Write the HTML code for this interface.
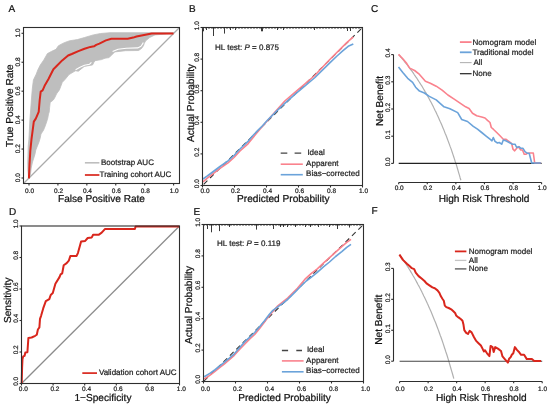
<!DOCTYPE html>
<html><head><meta charset="utf-8"><style>
html,body{margin:0;padding:0;background:#fff;}
svg{display:block;will-change:transform;}
text{font-family:"Liberation Sans",sans-serif;stroke:currentColor;stroke-width:0.22px;text-rendering:geometricPrecision;}
</style></head><body>
<svg width="550" height="408" viewBox="0 0 550 408" font-family="Liberation Sans, sans-serif">
<rect width="550" height="408" fill="#fff"/>
<text x="8.6" y="11.8" font-size="10" text-anchor="start" fill="#111" color="#111">A</text>
<polygon points="28.6,178.4 27.9,170.0 27.8,162.0 28.2,146.0 28.9,139.2 29.9,119.6 30.5,112.0 31.1,104.0 31.7,96.0 32.4,88.0 33.4,80.0 36.3,74.0 37.8,70.0 40.3,65.0 43.8,59.9 47.4,53.6 51.7,51.3 56.0,49.3 58.4,45.8 62.7,43.4 67.4,41.5 70.0,40.7 77.3,39.6 84.5,37.5 93.3,34.9 100.5,33.5 110.0,32.7 150.0,32.7 173.5,32.7 173.5,33.6 166.7,34.0 160.0,34.5 155.0,34.9 149.5,37.6 145.5,41.0 144.3,43.3 143.5,45.7 141.5,48.5 138.6,50.5 125.5,50.7 114.8,51.9 109.1,57.6 105.0,58.2 101.5,59.6 95.0,60.7 93.8,62.5 92.6,64.9 84.3,66.4 78.4,71.2 75.4,70.8 69.0,74.6 65.0,79.5 62.3,82.3 60.9,86.0 59.4,89.9 56.6,93.8 54.7,97.8 53.3,100.0 50.2,102.4 49.6,107.8 49.2,112.0 48.5,114.0 47.8,118.0 46.6,122.0 45.2,126.0 43.6,130.0 41.0,134.0 40.2,138.0 39.0,142.0 37.4,146.0 35.8,150.0 35.0,154.0 33.8,158.0 32.5,162.0 31.2,168.0 30.5,174.0 29.5,178.4" fill="#bebebe" stroke="#bebebe" stroke-width="0.8"/>
<polyline points="112.6,51.6 118.1,49.2 126.3,48.3 137.7,47.9 141.0,46.2 142.6,43.9 143.3,42.5" fill="none" stroke="#fff" stroke-width="1.1" stroke-linejoin="round"/>
<polyline points="75.6,69.7 80.0,67.3 84.5,65.3 89.4,64.3 91.4,62.3" fill="none" stroke="#fff" stroke-width="1.1" stroke-linejoin="round"/>
<line x1="23.5" y1="183.5" x2="179.5" y2="27.5" stroke="#ababab" stroke-width="1.25"/>
<polyline points="28.9,178.4 29.5,164.7 30.3,151.0 31.5,139.2 32.8,129.4 33.8,121.6 35.8,118.6 38.7,111.8 39.7,100.0 40.7,91.7 42.6,90.4 44.6,85.8 48.5,79.0 53.4,69.2 56.4,66.2 62.2,60.4 68.1,55.5 71.8,54.0 78.4,51.1 84.5,48.8 90.4,46.9 94.0,46.3 96.2,44.9 99.4,43.6 105.9,40.4 111.4,38.7 127.7,38.7 133.2,37.6 136.5,36.5 144.1,34.9 151.7,33.4 173.5,33.4" fill="none" stroke="#d9261c" stroke-width="2.0" stroke-linejoin="round"/>
<rect x="23.5" y="27.5" width="156" height="156" fill="none" stroke="#2e2e2e" stroke-width="1.1"/>
<line x1="29.0" y1="183.5" x2="29.0" y2="185.5" stroke="#2e2e2e" stroke-width="1.1"/>
<text x="29.6" y="192.7" font-size="6.5" text-anchor="middle" fill="#222" color="#222">0.0</text>
<line x1="57.92" y1="183.5" x2="57.92" y2="185.5" stroke="#2e2e2e" stroke-width="1.1"/>
<text x="58.52" y="192.7" font-size="6.5" text-anchor="middle" fill="#222" color="#222">0.2</text>
<line x1="86.84" y1="183.5" x2="86.84" y2="185.5" stroke="#2e2e2e" stroke-width="1.1"/>
<text x="87.44" y="192.7" font-size="6.5" text-anchor="middle" fill="#222" color="#222">0.4</text>
<line x1="115.75999999999999" y1="183.5" x2="115.75999999999999" y2="185.5" stroke="#2e2e2e" stroke-width="1.1"/>
<text x="116.35999999999999" y="192.7" font-size="6.5" text-anchor="middle" fill="#222" color="#222">0.6</text>
<line x1="144.68" y1="183.5" x2="144.68" y2="185.5" stroke="#2e2e2e" stroke-width="1.1"/>
<text x="145.28" y="192.7" font-size="6.5" text-anchor="middle" fill="#222" color="#222">0.8</text>
<line x1="173.6" y1="183.5" x2="173.6" y2="185.5" stroke="#2e2e2e" stroke-width="1.1"/>
<text x="174.2" y="192.7" font-size="6.5" text-anchor="middle" fill="#222" color="#222">1.0</text>
<line x1="21.5" y1="178.0" x2="23.5" y2="178.0" stroke="#2e2e2e" stroke-width="1.1"/>
<text x="19.9" y="177.7" font-size="6.5" text-anchor="middle" fill="#222" color="#222" transform="rotate(-90 19.9 177.7)">0.0</text>
<line x1="21.5" y1="149.06" x2="23.5" y2="149.06" stroke="#2e2e2e" stroke-width="1.1"/>
<text x="19.9" y="148.76" font-size="6.5" text-anchor="middle" fill="#222" color="#222" transform="rotate(-90 19.9 148.76)">0.2</text>
<line x1="21.5" y1="120.12" x2="23.5" y2="120.12" stroke="#2e2e2e" stroke-width="1.1"/>
<text x="19.9" y="119.82000000000001" font-size="6.5" text-anchor="middle" fill="#222" color="#222" transform="rotate(-90 19.9 119.82000000000001)">0.4</text>
<line x1="21.5" y1="91.18" x2="23.5" y2="91.18" stroke="#2e2e2e" stroke-width="1.1"/>
<text x="19.9" y="90.88000000000001" font-size="6.5" text-anchor="middle" fill="#222" color="#222" transform="rotate(-90 19.9 90.88000000000001)">0.6</text>
<line x1="21.5" y1="62.24000000000001" x2="23.5" y2="62.24000000000001" stroke="#2e2e2e" stroke-width="1.1"/>
<text x="19.9" y="61.94000000000001" font-size="6.5" text-anchor="middle" fill="#222" color="#222" transform="rotate(-90 19.9 61.94000000000001)">0.8</text>
<line x1="21.5" y1="33.30000000000001" x2="23.5" y2="33.30000000000001" stroke="#2e2e2e" stroke-width="1.1"/>
<text x="19.9" y="33.000000000000014" font-size="6.5" text-anchor="middle" fill="#222" color="#222" transform="rotate(-90 19.9 33.000000000000014)">1.0</text>
<text x="58.0" y="202.3" font-size="10.1" text-anchor="start" fill="#111" color="#111">False Positive Rate</text>
<text x="12.8" y="105.6" font-size="10.1" text-anchor="middle" fill="#111" color="#111" transform="rotate(-90 12.8 105.6)">True Positive Rate</text>
<line x1="84.9" y1="162.8" x2="99.4" y2="162.8" stroke="#bebebe" stroke-width="1.6"/>
<text x="101.0" y="164.9" font-size="8.0" text-anchor="start" fill="#222" color="#222">Bootstrap AUC</text>
<line x1="84.9" y1="175.0" x2="99.4" y2="175.0" stroke="#d9261c" stroke-width="1.7"/>
<text x="99.6" y="177.1" font-size="8.0" text-anchor="start" fill="#222" color="#222">Training cohort AUC</text>
<text x="188.9" y="11.8" font-size="10" text-anchor="start" fill="#111" color="#111">B</text>
<line x1="362.5" y1="27.5" x2="202.5" y2="185.5" stroke="#333" stroke-width="1.1" stroke-dasharray="5.2,3.8" stroke-dashoffset="7"/>
<polyline points="203.0,181.8 207.0,178.4 212.0,174.5 220.0,168.4 228.0,162.9 234.0,157.5 240.0,151.0 248.0,143.8 252.7,137.9 257.6,132.0 262.5,126.2 267.4,120.8 275.0,112.0 284.8,101.0 294.6,92.6 304.4,84.3 314.2,76.0 329.3,60.0 346.5,42.9 353.3,36.9" fill="none" stroke="#fa828d" stroke-width="1.6" stroke-linejoin="round"/>
<polyline points="203.0,179.0 207.0,176.2 212.0,172.5 220.0,166.5 228.0,160.8 234.0,155.5 240.0,149.0 248.0,141.4 252.7,135.8 257.6,130.6 262.5,125.7 267.4,120.3 272.3,115.4 275.0,112.7 284.8,103.4 294.6,94.6 304.4,86.3 315.0,77.5 329.3,63.4 337.0,56.0 343.0,50.6 348.2,46.3 353.3,44.1" fill="none" stroke="#6ba3da" stroke-width="1.6" stroke-linejoin="round"/>
<rect x="202.5" y="27.5" width="160.0" height="158.0" fill="none" stroke="#2e2e2e" stroke-width="1.1"/>
<line x1="203.5" y1="27.5" x2="203.5" y2="31.3" stroke="#222" stroke-width="0.9"/>
<line x1="206.5" y1="27.5" x2="206.5" y2="30.0" stroke="#222" stroke-width="0.9"/>
<line x1="213.5" y1="27.5" x2="213.5" y2="36.0" stroke="#222" stroke-width="0.9"/>
<line x1="224.5" y1="27.5" x2="224.5" y2="33.6" stroke="#222" stroke-width="0.9"/>
<line x1="230.5" y1="27.5" x2="230.5" y2="30.0" stroke="#222" stroke-width="0.9"/>
<line x1="235.5" y1="27.5" x2="235.5" y2="30.0" stroke="#222" stroke-width="0.9"/>
<line x1="261.5" y1="27.5" x2="261.5" y2="31.3" stroke="#222" stroke-width="0.9"/>
<line x1="262.5" y1="27.5" x2="262.5" y2="31.3" stroke="#222" stroke-width="0.9"/>
<line x1="277.5" y1="27.5" x2="277.5" y2="30.0" stroke="#222" stroke-width="0.9"/>
<line x1="283.5" y1="27.5" x2="283.5" y2="30.0" stroke="#222" stroke-width="0.9"/>
<line x1="314.5" y1="27.5" x2="314.5" y2="30.0" stroke="#222" stroke-width="0.9"/>
<line x1="347.5" y1="27.5" x2="347.5" y2="31.0" stroke="#222" stroke-width="0.9"/>
<line x1="350.5" y1="27.5" x2="350.5" y2="31.0" stroke="#222" stroke-width="0.9"/>
<line x1="202.5" y1="28.5" x2="362.5" y2="28.5" stroke="#555" stroke-width="1" stroke-dasharray="1,2"/>
<line x1="202.5" y1="185.5" x2="202.5" y2="187.5" stroke="#2e2e2e" stroke-width="1.1"/>
<text x="205.0" y="192.9" font-size="6.5" text-anchor="middle" fill="#222" color="#222">0.0</text>
<line x1="234.5" y1="185.5" x2="234.5" y2="187.5" stroke="#2e2e2e" stroke-width="1.1"/>
<text x="235.5" y="192.9" font-size="6.5" text-anchor="middle" fill="#222" color="#222">0.2</text>
<line x1="266.5" y1="185.5" x2="266.5" y2="187.5" stroke="#2e2e2e" stroke-width="1.1"/>
<text x="267.5" y="192.9" font-size="6.5" text-anchor="middle" fill="#222" color="#222">0.4</text>
<line x1="298.5" y1="185.5" x2="298.5" y2="187.5" stroke="#2e2e2e" stroke-width="1.1"/>
<text x="299.5" y="192.9" font-size="6.5" text-anchor="middle" fill="#222" color="#222">0.6</text>
<line x1="330.5" y1="185.5" x2="330.5" y2="187.5" stroke="#2e2e2e" stroke-width="1.1"/>
<text x="331.5" y="192.9" font-size="6.5" text-anchor="middle" fill="#222" color="#222">0.8</text>
<line x1="362.5" y1="185.5" x2="362.5" y2="187.5" stroke="#2e2e2e" stroke-width="1.1"/>
<text x="363.5" y="192.9" font-size="6.5" text-anchor="middle" fill="#222" color="#222">1.0</text>
<line x1="200.5" y1="185.5" x2="202.5" y2="185.5" stroke="#2e2e2e" stroke-width="1.1"/>
<text x="199.2" y="183.7" font-size="6.5" text-anchor="middle" fill="#222" color="#222" transform="rotate(-90 199.2 183.7)">0.0</text>
<line x1="200.5" y1="153.9" x2="202.5" y2="153.9" stroke="#2e2e2e" stroke-width="1.1"/>
<text x="199.2" y="152.1" font-size="6.5" text-anchor="middle" fill="#222" color="#222" transform="rotate(-90 199.2 152.1)">0.2</text>
<line x1="200.5" y1="122.3" x2="202.5" y2="122.3" stroke="#2e2e2e" stroke-width="1.1"/>
<text x="199.2" y="120.5" font-size="6.5" text-anchor="middle" fill="#222" color="#222" transform="rotate(-90 199.2 120.5)">0.4</text>
<line x1="200.5" y1="90.7" x2="202.5" y2="90.7" stroke="#2e2e2e" stroke-width="1.1"/>
<text x="199.2" y="88.9" font-size="6.5" text-anchor="middle" fill="#222" color="#222" transform="rotate(-90 199.2 88.9)">0.6</text>
<line x1="200.5" y1="59.099999999999994" x2="202.5" y2="59.099999999999994" stroke="#2e2e2e" stroke-width="1.1"/>
<text x="199.2" y="57.3" font-size="6.5" text-anchor="middle" fill="#222" color="#222" transform="rotate(-90 199.2 57.3)">0.8</text>
<line x1="200.5" y1="27.5" x2="202.5" y2="27.5" stroke="#2e2e2e" stroke-width="1.1"/>
<text x="199.2" y="25.7" font-size="6.5" text-anchor="middle" fill="#222" color="#222" transform="rotate(-90 199.2 25.7)">1.0</text>
<text x="237.1" y="202.4" font-size="10.1" text-anchor="start" fill="#111" color="#111">Predicted Probability</text>
<text x="193.5" y="103.0" font-size="10.1" text-anchor="middle" fill="#111" color="#111" transform="rotate(-90 193.5 103.0)">Actual Probability</text>
<text x="215" y="49.7" font-size="8.0" text-anchor="start" fill="#222" color="#222">HL test: <tspan font-style="italic">P</tspan> = 0.875</text>
<line x1="280.7" y1="153.1" x2="301.2" y2="153.1" stroke="#444" stroke-width="1.4" stroke-dasharray="6.6,7.3"/>
<text x="307.4" y="155.2" font-size="8.0" text-anchor="start" fill="#222" color="#222">Ideal</text>
<line x1="280.7" y1="164.2" x2="302.8" y2="164.2" stroke="#fa828d" stroke-width="1.6"/>
<text x="306.1" y="165.5" font-size="8.0" text-anchor="start" fill="#222" color="#222">Apparent</text>
<line x1="280.7" y1="174.7" x2="302.8" y2="174.7" stroke="#6ba3da" stroke-width="1.6"/>
<text x="306.1" y="176.3" font-size="8.0" text-anchor="start" fill="#222" color="#222">Bias−corrected</text>
<text x="371.0" y="11.9" font-size="10" text-anchor="start" fill="#111" color="#111">C</text>
<polyline points="398.7,54.6 399.4,55.4 400.1,56.2 400.8,57.1 401.6,57.9 402.3,58.8 403.0,59.6 403.7,60.5 404.4,61.4 405.1,62.3 405.8,63.2 406.6,64.1 407.3,65.0 408.0,65.9 408.7,66.9 409.4,67.8 410.1,68.8 410.8,69.8 411.6,70.7 412.3,71.7 413.0,72.7 413.7,73.7 414.4,74.8 415.1,75.8 415.8,76.9 416.6,77.9 417.3,79.0 418.0,80.1 418.7,81.2 419.4,82.3 420.1,83.4 420.8,84.5 421.6,85.7 422.3,86.8 423.0,88.0 423.7,89.2 424.4,90.4 425.1,91.6 425.9,92.9 426.6,94.1 427.3,95.4 428.0,96.7 428.7,98.0 429.4,99.3 430.1,100.6 430.9,102.0 431.6,103.3 432.3,104.7 433.0,106.1 433.7,107.6 434.4,109.0 435.1,110.5 435.9,111.9 436.6,113.4 437.3,115.0 438.0,116.5 438.7,118.1 439.4,119.7 440.1,121.3 440.9,122.9 441.6,124.5 442.3,126.2 443.0,127.9 443.7,129.6 444.4,131.4 445.1,133.2 445.9,135.0 446.6,136.8 447.3,138.7 448.0,140.6 448.7,142.5 449.4,144.4 450.1,146.4 450.9,148.4 451.6,150.4 452.3,152.5 453.0,154.6 453.7,156.8 454.4,158.9 455.1,161.2 455.9,163.4 456.6,165.7 457.3,168.0 458.0,170.4 458.7,172.8 459.4,175.2 460.1,177.7 460.9,180.2" fill="none" stroke="#b0b0b0" stroke-width="1.2" stroke-linejoin="round"/>
<line x1="398.7" y1="163.4" x2="541.6" y2="163.4" stroke="#222" stroke-width="1.1"/>
<polyline points="398.5,54.4 402.8,58.7 406.8,63.6 409.7,68.1 414.6,70.5 419.5,74.4 425.4,81.3 430.3,83.2 436.2,86.2 442.1,90.1 447.9,95.0 453.8,98.9 459.7,102.8 465.6,106.8 469.1,108.5 472.5,113.3 476.7,115.8 481.7,117.0 485.0,118.0 487.5,120.3 490.0,122.5 491.3,127.5 493.3,129.2 496.7,132.5 500.0,135.8 503.3,139.2 505.8,139.2 509.2,141.7 511.7,143.7 513.0,149.2 514.7,150.8 516.7,148.3 518.3,146.7 520.8,150.0 522.5,150.0 524.2,154.2 525.8,154.2 527.5,153.3 530.0,153.0 533.3,153.0 534.7,163.0 540.8,163.0" fill="none" stroke="#fa828d" stroke-width="1.6" stroke-linejoin="round"/>
<polyline points="398.5,67.0 402.8,72.5 407.7,78.3 412.6,82.3 415.6,87.2 419.5,91.1 424.4,93.0 429.3,96.4 436.2,99.9 444.0,106.8 449.9,108.7 457.7,112.6 461.7,119.5 467.5,121.5 473.3,126.3 477.5,129.2 481.7,132.5 485.8,135.8 490.0,139.2 492.0,140.8 493.3,137.5 495.0,141.3 497.5,143.0 499.2,142.5 501.7,144.2 503.3,140.0 505.8,140.8 509.2,142.5 512.5,144.2 515.0,144.2 516.7,147.5 519.2,146.7 520.8,148.3 523.0,148.3 525.0,151.7 527.5,153.3 529.2,153.3 531.7,163.0 540.8,163.0" fill="none" stroke="#6ba3da" stroke-width="1.6" stroke-linejoin="round"/>
<line x1="393.5" y1="54.6" x2="393.5" y2="163.4" stroke="#2e2e2e" stroke-width="1.1"/>
<line x1="391.2" y1="163.4" x2="393.5" y2="163.4" stroke="#2e2e2e" stroke-width="1.1"/>
<text x="389.8" y="161.8" font-size="6.5" text-anchor="middle" fill="#222" color="#222" transform="rotate(-90 389.8 161.8)">0.0</text>
<line x1="391.2" y1="136.2" x2="393.5" y2="136.2" stroke="#2e2e2e" stroke-width="1.1"/>
<text x="389.8" y="134.6" font-size="6.5" text-anchor="middle" fill="#222" color="#222" transform="rotate(-90 389.8 134.6)">0.1</text>
<line x1="391.2" y1="109.0" x2="393.5" y2="109.0" stroke="#2e2e2e" stroke-width="1.1"/>
<text x="389.8" y="107.4" font-size="6.5" text-anchor="middle" fill="#222" color="#222" transform="rotate(-90 389.8 107.4)">0.2</text>
<line x1="391.2" y1="81.8" x2="393.5" y2="81.8" stroke="#2e2e2e" stroke-width="1.1"/>
<text x="389.8" y="80.2" font-size="6.5" text-anchor="middle" fill="#222" color="#222" transform="rotate(-90 389.8 80.2)">0.3</text>
<line x1="391.2" y1="54.59999999999998" x2="393.5" y2="54.59999999999998" stroke="#2e2e2e" stroke-width="1.1"/>
<text x="389.8" y="52.99999999999998" font-size="6.5" text-anchor="middle" fill="#222" color="#222" transform="rotate(-90 389.8 52.99999999999998)">0.4</text>
<line x1="398.7" y1="182.5" x2="541.6" y2="182.5" stroke="#2e2e2e" stroke-width="1.1"/>
<line x1="398.7" y1="182.5" x2="398.7" y2="184.3" stroke="#2e2e2e" stroke-width="1.1"/>
<text x="399.2" y="189.9" font-size="6.5" text-anchor="middle" fill="#222" color="#222">0.0</text>
<line x1="427.28" y1="182.5" x2="427.28" y2="184.3" stroke="#2e2e2e" stroke-width="1.1"/>
<text x="427.78" y="189.9" font-size="6.5" text-anchor="middle" fill="#222" color="#222">0.2</text>
<line x1="455.86" y1="182.5" x2="455.86" y2="184.3" stroke="#2e2e2e" stroke-width="1.1"/>
<text x="456.36" y="189.9" font-size="6.5" text-anchor="middle" fill="#222" color="#222">0.4</text>
<line x1="484.44000000000005" y1="182.5" x2="484.44000000000005" y2="184.3" stroke="#2e2e2e" stroke-width="1.1"/>
<text x="484.94000000000005" y="189.9" font-size="6.5" text-anchor="middle" fill="#222" color="#222">0.6</text>
<line x1="513.02" y1="182.5" x2="513.02" y2="184.3" stroke="#2e2e2e" stroke-width="1.1"/>
<text x="513.52" y="189.9" font-size="6.5" text-anchor="middle" fill="#222" color="#222">0.8</text>
<line x1="541.6" y1="182.5" x2="541.6" y2="184.3" stroke="#2e2e2e" stroke-width="1.1"/>
<text x="542.1" y="189.9" font-size="6.5" text-anchor="middle" fill="#222" color="#222">1.0</text>
<text x="438.7" y="202.3" font-size="10.1" text-anchor="start" fill="#111" color="#111">High Risk Threshold</text>
<text x="382.8" y="101.0" font-size="10.1" text-anchor="middle" fill="#111" color="#111" transform="rotate(-90 382.8 101.0)">Net Benefit</text>
<line x1="459.9" y1="42.1" x2="471.6" y2="42.1" stroke="#fa828d" stroke-width="1.8"/>
<text x="472.6" y="45.1" font-size="8.0" text-anchor="start" fill="#222" color="#222">Nomogram model</text>
<line x1="459.9" y1="52.3" x2="471.6" y2="52.3" stroke="#6ba3da" stroke-width="1.8"/>
<text x="472.4" y="55.0" font-size="8.0" text-anchor="start" fill="#222" color="#222">Traditional model</text>
<line x1="459.9" y1="62.6" x2="471.6" y2="62.6" stroke="#b4b4b4" stroke-width="1.1"/>
<text x="473.4" y="64.9" font-size="8.0" text-anchor="start" fill="#222" color="#222">All</text>
<line x1="459.9" y1="73.7" x2="471.6" y2="73.7" stroke="#222" stroke-width="1.2"/>
<text x="472.6" y="76.2" font-size="8.0" text-anchor="start" fill="#222" color="#222">None</text>
<text x="8.9" y="214.5" font-size="10" text-anchor="start" fill="#111" color="#111">D</text>
<line x1="21.5" y1="383.5" x2="179.5" y2="226.0" stroke="#8c8c8c" stroke-width="1.3"/>
<polyline points="21.7,383.0 22.1,367.4 22.5,358.9 23.2,356.4 24.6,355.8 25.3,352.6 27.4,352.2 28.4,337.9 31.6,337.5 35.2,335.8 36.8,334.7 37.9,329.5 39.4,327.4 40.0,318.9 41.1,315.8 43.2,308.4 44.1,305.9 45.8,301.2 49.3,299.1 50.7,295.0 52.8,293.0 55.4,283.7 59.5,277.1 60.6,274.4 62.2,273.4 63.7,265.2 66.7,263.1 68.8,260.7 70.4,255.9 76.6,255.9 78.0,252.8 81.1,241.5 85.2,240.9 87.7,238.0 91.8,237.4 93.1,234.8 98.6,234.8 101.7,232.7 105.1,228.9 134.9,228.9 135.6,226.4 179.2,226.4" fill="none" stroke="#d9261c" stroke-width="2.0" stroke-linejoin="round"/>
<rect x="21.5" y="226.0" width="158.0" height="157.5" fill="none" stroke="#2e2e2e" stroke-width="1.1"/>
<line x1="21.5" y1="383.5" x2="21.5" y2="385.5" stroke="#2e2e2e" stroke-width="1.1"/>
<text x="23.3" y="391.4" font-size="6.5" text-anchor="middle" fill="#222" color="#222">0.0</text>
<line x1="53.1" y1="383.5" x2="53.1" y2="385.5" stroke="#2e2e2e" stroke-width="1.1"/>
<text x="54.9" y="391.4" font-size="6.5" text-anchor="middle" fill="#222" color="#222">0.2</text>
<line x1="84.7" y1="383.5" x2="84.7" y2="385.5" stroke="#2e2e2e" stroke-width="1.1"/>
<text x="86.5" y="391.4" font-size="6.5" text-anchor="middle" fill="#222" color="#222">0.4</text>
<line x1="116.3" y1="383.5" x2="116.3" y2="385.5" stroke="#2e2e2e" stroke-width="1.1"/>
<text x="118.1" y="391.4" font-size="6.5" text-anchor="middle" fill="#222" color="#222">0.6</text>
<line x1="147.9" y1="383.5" x2="147.9" y2="385.5" stroke="#2e2e2e" stroke-width="1.1"/>
<text x="149.70000000000002" y="391.4" font-size="6.5" text-anchor="middle" fill="#222" color="#222">0.8</text>
<line x1="179.5" y1="383.5" x2="179.5" y2="385.5" stroke="#2e2e2e" stroke-width="1.1"/>
<text x="181.3" y="391.4" font-size="6.5" text-anchor="middle" fill="#222" color="#222">1.0</text>
<line x1="19.5" y1="383.5" x2="21.5" y2="383.5" stroke="#2e2e2e" stroke-width="1.1"/>
<text x="18.3" y="381.3" font-size="6.5" text-anchor="middle" fill="#222" color="#222" transform="rotate(-90 18.3 381.3)">0.0</text>
<line x1="19.5" y1="352.0" x2="21.5" y2="352.0" stroke="#2e2e2e" stroke-width="1.1"/>
<text x="18.3" y="349.8" font-size="6.5" text-anchor="middle" fill="#222" color="#222" transform="rotate(-90 18.3 349.8)">0.2</text>
<line x1="19.5" y1="320.5" x2="21.5" y2="320.5" stroke="#2e2e2e" stroke-width="1.1"/>
<text x="18.3" y="318.3" font-size="6.5" text-anchor="middle" fill="#222" color="#222" transform="rotate(-90 18.3 318.3)">0.4</text>
<line x1="19.5" y1="289.0" x2="21.5" y2="289.0" stroke="#2e2e2e" stroke-width="1.1"/>
<text x="18.3" y="286.8" font-size="6.5" text-anchor="middle" fill="#222" color="#222" transform="rotate(-90 18.3 286.8)">0.6</text>
<line x1="19.5" y1="257.5" x2="21.5" y2="257.5" stroke="#2e2e2e" stroke-width="1.1"/>
<text x="18.3" y="255.3" font-size="6.5" text-anchor="middle" fill="#222" color="#222" transform="rotate(-90 18.3 255.3)">0.8</text>
<line x1="19.5" y1="226.0" x2="21.5" y2="226.0" stroke="#2e2e2e" stroke-width="1.1"/>
<text x="18.3" y="223.8" font-size="6.5" text-anchor="middle" fill="#222" color="#222" transform="rotate(-90 18.3 223.8)">1.0</text>
<text x="74.5" y="401.2" font-size="10.1" text-anchor="start" fill="#111" color="#111">1−Specificity</text>
<text x="11.4" y="300.3" font-size="10.1" text-anchor="middle" fill="#111" color="#111" transform="rotate(-90 11.4 300.3)">Sensitivity</text>
<line x1="82.3" y1="373.1" x2="97.0" y2="373.1" stroke="#d9261c" stroke-width="1.7"/>
<text x="98.9" y="375.3" font-size="8.0" text-anchor="start" fill="#222" color="#222">Validation cohort AUC</text>
<text x="193.4" y="214.5" font-size="10" text-anchor="start" fill="#111" color="#111">E</text>
<line x1="363.5" y1="224.5" x2="203.5" y2="381.5" stroke="#333" stroke-width="1.1" stroke-dasharray="5.2,3.8" stroke-dashoffset="7"/>
<polyline points="204.2,379.0 209.8,375.4 214.7,371.7 219.6,367.7 224.5,363.8 229.4,359.7 234.3,355.3 240.0,349.0 249.8,338.9 254.7,334.5 259.6,328.5 264.5,322.0 269.4,315.5 277.8,305.9 287.6,298.0 297.4,288.2 305.0,279.2 311.1,273.7 317.3,268.8 323.4,263.2 329.5,257.7 335.6,252.2 341.8,246.7 346.7,242.4 351.0,239.4" fill="none" stroke="#fa828d" stroke-width="1.6" stroke-linejoin="round"/>
<polyline points="204.2,376.8 209.8,373.4 214.7,370.0 219.6,366.1 224.5,362.2 229.4,358.2 234.3,353.8 240.0,347.2 244.9,341.6 249.8,337.1 254.7,332.5 259.6,326.7 264.5,320.8 269.2,314.6 272.9,310.3 277.8,306.9 282.7,303.4 287.6,299.5 292.5,294.6 297.4,289.7 302.3,284.8 306.2,281.0 311.1,277.3 317.3,272.4 323.4,266.9 329.5,262.0 335.6,256.5 341.8,251.6 346.7,247.3 351.0,244.3" fill="none" stroke="#6ba3da" stroke-width="1.6" stroke-linejoin="round"/>
<rect x="203.5" y="224.5" width="160.0" height="157.0" fill="none" stroke="#2e2e2e" stroke-width="1.1"/>
<line x1="207.5" y1="224.5" x2="207.5" y2="229.0" stroke="#222" stroke-width="0.9"/>
<line x1="211.5" y1="224.5" x2="211.5" y2="232.3" stroke="#222" stroke-width="0.9"/>
<line x1="219.5" y1="224.5" x2="219.5" y2="231.1" stroke="#222" stroke-width="0.9"/>
<line x1="229.5" y1="224.5" x2="229.5" y2="227.0" stroke="#222" stroke-width="0.9"/>
<line x1="256.5" y1="224.5" x2="256.5" y2="229.6" stroke="#222" stroke-width="0.9"/>
<line x1="273.5" y1="224.5" x2="273.5" y2="229.0" stroke="#222" stroke-width="0.9"/>
<line x1="280.5" y1="224.5" x2="280.5" y2="227.0" stroke="#222" stroke-width="0.9"/>
<line x1="283.5" y1="224.5" x2="283.5" y2="227.0" stroke="#222" stroke-width="0.9"/>
<line x1="287.5" y1="224.5" x2="287.5" y2="227.0" stroke="#222" stroke-width="0.9"/>
<line x1="295.5" y1="224.5" x2="295.5" y2="227.0" stroke="#222" stroke-width="0.9"/>
<line x1="305.5" y1="224.5" x2="305.5" y2="227.0" stroke="#222" stroke-width="0.9"/>
<line x1="310.5" y1="224.5" x2="310.5" y2="227.0" stroke="#222" stroke-width="0.9"/>
<line x1="318.5" y1="224.5" x2="318.5" y2="227.0" stroke="#222" stroke-width="0.9"/>
<line x1="329.5" y1="224.5" x2="329.5" y2="227.0" stroke="#222" stroke-width="0.9"/>
<line x1="337.5" y1="224.5" x2="337.5" y2="229.0" stroke="#222" stroke-width="0.9"/>
<line x1="349.5" y1="224.5" x2="349.5" y2="227.5" stroke="#222" stroke-width="0.9"/>
<line x1="203.5" y1="225.5" x2="363.5" y2="225.5" stroke="#555" stroke-width="1" stroke-dasharray="1,2"/>
<line x1="203.5" y1="381.5" x2="203.5" y2="383.5" stroke="#2e2e2e" stroke-width="1.1"/>
<text x="205.5" y="390.7" font-size="6.5" text-anchor="middle" fill="#222" color="#222">0.0</text>
<line x1="235.5" y1="381.5" x2="235.5" y2="383.5" stroke="#2e2e2e" stroke-width="1.1"/>
<text x="237.5" y="390.7" font-size="6.5" text-anchor="middle" fill="#222" color="#222">0.2</text>
<line x1="267.5" y1="381.5" x2="267.5" y2="383.5" stroke="#2e2e2e" stroke-width="1.1"/>
<text x="269.5" y="390.7" font-size="6.5" text-anchor="middle" fill="#222" color="#222">0.4</text>
<line x1="299.5" y1="381.5" x2="299.5" y2="383.5" stroke="#2e2e2e" stroke-width="1.1"/>
<text x="301.5" y="390.7" font-size="6.5" text-anchor="middle" fill="#222" color="#222">0.6</text>
<line x1="331.5" y1="381.5" x2="331.5" y2="383.5" stroke="#2e2e2e" stroke-width="1.1"/>
<text x="333.5" y="390.7" font-size="6.5" text-anchor="middle" fill="#222" color="#222">0.8</text>
<line x1="363.5" y1="381.5" x2="363.5" y2="383.5" stroke="#2e2e2e" stroke-width="1.1"/>
<text x="365.5" y="390.7" font-size="6.5" text-anchor="middle" fill="#222" color="#222">1.0</text>
<line x1="201.5" y1="381.5" x2="203.5" y2="381.5" stroke="#2e2e2e" stroke-width="1.1"/>
<text x="200.4" y="379.3" font-size="6.5" text-anchor="middle" fill="#222" color="#222" transform="rotate(-90 200.4 379.3)">0.0</text>
<line x1="201.5" y1="350.1" x2="203.5" y2="350.1" stroke="#2e2e2e" stroke-width="1.1"/>
<text x="200.4" y="347.90000000000003" font-size="6.5" text-anchor="middle" fill="#222" color="#222" transform="rotate(-90 200.4 347.90000000000003)">0.2</text>
<line x1="201.5" y1="318.7" x2="203.5" y2="318.7" stroke="#2e2e2e" stroke-width="1.1"/>
<text x="200.4" y="316.5" font-size="6.5" text-anchor="middle" fill="#222" color="#222" transform="rotate(-90 200.4 316.5)">0.4</text>
<line x1="201.5" y1="287.3" x2="203.5" y2="287.3" stroke="#2e2e2e" stroke-width="1.1"/>
<text x="200.4" y="285.1" font-size="6.5" text-anchor="middle" fill="#222" color="#222" transform="rotate(-90 200.4 285.1)">0.6</text>
<line x1="201.5" y1="255.9" x2="203.5" y2="255.9" stroke="#2e2e2e" stroke-width="1.1"/>
<text x="200.4" y="253.70000000000002" font-size="6.5" text-anchor="middle" fill="#222" color="#222" transform="rotate(-90 200.4 253.70000000000002)">0.8</text>
<line x1="201.5" y1="224.5" x2="203.5" y2="224.5" stroke="#2e2e2e" stroke-width="1.1"/>
<text x="200.4" y="222.3" font-size="6.5" text-anchor="middle" fill="#222" color="#222" transform="rotate(-90 200.4 222.3)">1.0</text>
<text x="238.2" y="401.1" font-size="10.1" text-anchor="start" fill="#111" color="#111">Predicted Probability</text>
<text x="192.4" y="305.0" font-size="10.1" text-anchor="middle" fill="#111" color="#111" transform="rotate(-90 192.4 305.0)">Actual Probability</text>
<text x="217" y="245.8" font-size="8.0" text-anchor="start" fill="#222" color="#222">HL test: <tspan font-style="italic">P</tspan> = 0.119</text>
<line x1="281.9" y1="350.5" x2="302" y2="350.5" stroke="#444" stroke-width="1.4" stroke-dasharray="6.2,8.2"/>
<text x="306.9" y="352.2" font-size="8.0" text-anchor="start" fill="#222" color="#222">Ideal</text>
<line x1="281.9" y1="360.9" x2="303.6" y2="360.9" stroke="#fa828d" stroke-width="1.6"/>
<text x="306.1" y="362.5" font-size="8.0" text-anchor="start" fill="#222" color="#222">Apparent</text>
<line x1="281.9" y1="371.8" x2="303.6" y2="371.8" stroke="#6ba3da" stroke-width="1.6"/>
<text x="306.1" y="373.0" font-size="8.0" text-anchor="start" fill="#222" color="#222">Bias−corrected</text>
<text x="371.4" y="214.4" font-size="10" text-anchor="start" fill="#111" color="#111">F</text>
<polyline points="399.6,254.5 400.3,255.5 401.0,256.5 401.7,257.6 402.5,258.6 403.2,259.7 403.9,260.7 404.6,261.8 405.3,262.9 406.0,264.0 406.7,265.1 407.4,266.3 408.2,267.4 408.9,268.6 409.6,269.7 410.3,270.9 411.0,272.1 411.7,273.3 412.4,274.5 413.1,275.7 413.9,277.0 414.6,278.3 415.3,279.5 416.0,280.8 416.7,282.1 417.4,283.4 418.1,284.8 418.9,286.1 419.6,287.5 420.3,288.8 421.0,290.2 421.7,291.6 422.4,293.1 423.1,294.5 423.8,296.0 424.6,297.5 425.3,299.0 426.0,300.5 426.7,302.0 427.4,303.6 428.1,305.1 428.8,306.7 429.5,308.3 430.3,310.0 431.0,311.6 431.7,313.3 432.4,315.0 433.1,316.7 433.8,318.5 434.5,320.2 435.3,322.0 436.0,323.8 436.7,325.7 437.4,327.5 438.1,329.4 438.8,331.3 439.5,333.3 440.2,335.2 441.0,337.2 441.7,339.3 442.4,341.3 443.1,343.4 443.8,345.5 444.5,347.7 445.2,349.8 445.9,352.0 446.7,354.3 447.4,356.5 448.1,358.9 448.8,361.2 449.5,363.6 450.2,366.0 450.9,368.5 451.6,370.9 452.4,373.5 453.1,376.0 453.8,378.7" fill="none" stroke="#b0b0b0" stroke-width="1.2" stroke-linejoin="round"/>
<line x1="399.6" y1="361.2" x2="542.2" y2="361.2" stroke="#444" stroke-width="1.1"/>
<polyline points="399.4,254.6 402.9,259.9 406.9,263.8 409.8,266.3 411.8,268.2 414.2,269.2 415.7,272.6 418.6,276.1 421.6,278.5 424.5,281.0 426.5,283.4 429.4,285.4 432.4,287.4 434.8,288.3 437.5,290.4 439.4,292.8 440.9,296.3 442.4,298.7 443.8,300.7 444.8,305.6 446.3,307.1 448.7,308.0 451.2,309.3 453.1,311.0 455.1,312.9 456.1,315.4 458.5,317.4 461.0,319.3 462.5,320.8 463.4,324.2 464.3,330.1 466.2,332.9 468.0,334.0 469.6,330.9 471.6,332.4 473.9,337.0 476.2,340.9 478.5,343.2 480.9,345.5 482.9,349.4 484.0,351.4 485.0,350.2 487.0,353.3 489.4,356.1 490.6,345.9 492.5,347.1 493.7,352.0 495.2,347.1 497.9,348.6 501.0,351.0 502.5,356.4 504.8,359.1 507.9,362.6 509.1,358.7 510.7,357.1 511.8,354.8 513.3,353.3 514.9,347.1 516.9,349.9 518.7,351.7 521.1,354.8 524.1,354.8 526.8,359.1 531.9,359.1 534.2,361.0 541.1,361.0" fill="none" stroke="#d9261c" stroke-width="2.0" stroke-linejoin="round"/>
<line x1="393.5" y1="268.4" x2="393.5" y2="361.2" stroke="#2e2e2e" stroke-width="1.1"/>
<line x1="391.2" y1="361.2" x2="393.5" y2="361.2" stroke="#2e2e2e" stroke-width="1.1"/>
<text x="389.9" y="359.59999999999997" font-size="6.5" text-anchor="middle" fill="#222" color="#222" transform="rotate(-90 389.9 359.59999999999997)">0.0</text>
<line x1="391.2" y1="330.26666666666665" x2="393.5" y2="330.26666666666665" stroke="#2e2e2e" stroke-width="1.1"/>
<text x="389.9" y="328.66666666666663" font-size="6.5" text-anchor="middle" fill="#222" color="#222" transform="rotate(-90 389.9 328.66666666666663)">0.1</text>
<line x1="391.2" y1="299.3333333333333" x2="393.5" y2="299.3333333333333" stroke="#2e2e2e" stroke-width="1.1"/>
<text x="389.9" y="297.7333333333333" font-size="6.5" text-anchor="middle" fill="#222" color="#222" transform="rotate(-90 389.9 297.7333333333333)">0.2</text>
<line x1="391.2" y1="268.4" x2="393.5" y2="268.4" stroke="#2e2e2e" stroke-width="1.1"/>
<text x="389.9" y="266.79999999999995" font-size="6.5" text-anchor="middle" fill="#222" color="#222" transform="rotate(-90 389.9 266.79999999999995)">0.3</text>
<line x1="399.6" y1="381.5" x2="542.2" y2="381.5" stroke="#2e2e2e" stroke-width="1.1"/>
<line x1="399.6" y1="381.5" x2="399.6" y2="383.3" stroke="#2e2e2e" stroke-width="1.1"/>
<text x="400.0" y="390.8" font-size="6.5" text-anchor="middle" fill="#222" color="#222">0.0</text>
<line x1="428.12" y1="381.5" x2="428.12" y2="383.3" stroke="#2e2e2e" stroke-width="1.1"/>
<text x="428.52" y="390.8" font-size="6.5" text-anchor="middle" fill="#222" color="#222">0.2</text>
<line x1="456.64000000000004" y1="381.5" x2="456.64000000000004" y2="383.3" stroke="#2e2e2e" stroke-width="1.1"/>
<text x="457.04" y="390.8" font-size="6.5" text-anchor="middle" fill="#222" color="#222">0.4</text>
<line x1="485.1600000000001" y1="381.5" x2="485.1600000000001" y2="383.3" stroke="#2e2e2e" stroke-width="1.1"/>
<text x="485.56000000000006" y="390.8" font-size="6.5" text-anchor="middle" fill="#222" color="#222">0.6</text>
<line x1="513.6800000000001" y1="381.5" x2="513.6800000000001" y2="383.3" stroke="#2e2e2e" stroke-width="1.1"/>
<text x="514.08" y="390.8" font-size="6.5" text-anchor="middle" fill="#222" color="#222">0.8</text>
<line x1="542.2" y1="381.5" x2="542.2" y2="383.3" stroke="#2e2e2e" stroke-width="1.1"/>
<text x="542.6" y="390.8" font-size="6.5" text-anchor="middle" fill="#222" color="#222">1.0</text>
<text x="435.9" y="400.7" font-size="10.1" text-anchor="start" fill="#111" color="#111">High Risk Threshold</text>
<text x="382.3" y="319.7" font-size="10.1" text-anchor="middle" fill="#111" color="#111" transform="rotate(-90 382.3 319.7)">Net Benefit</text>
<line x1="454.9" y1="251.4" x2="466.4" y2="251.4" stroke="#d9261c" stroke-width="1.8"/>
<text x="468.8" y="254.1" font-size="8.0" text-anchor="start" fill="#222" color="#222">Nomogram model</text>
<line x1="454.9" y1="260.4" x2="466.4" y2="260.4" stroke="#c4c4c4" stroke-width="1.3"/>
<text x="468.8" y="262.6" font-size="8.0" text-anchor="start" fill="#222" color="#222">All</text>
<line x1="454.9" y1="268.9" x2="466.4" y2="268.9" stroke="#555" stroke-width="1.3"/>
<text x="468.8" y="271.1" font-size="8.0" text-anchor="start" fill="#222" color="#222">None</text>
</svg>
</body></html>
